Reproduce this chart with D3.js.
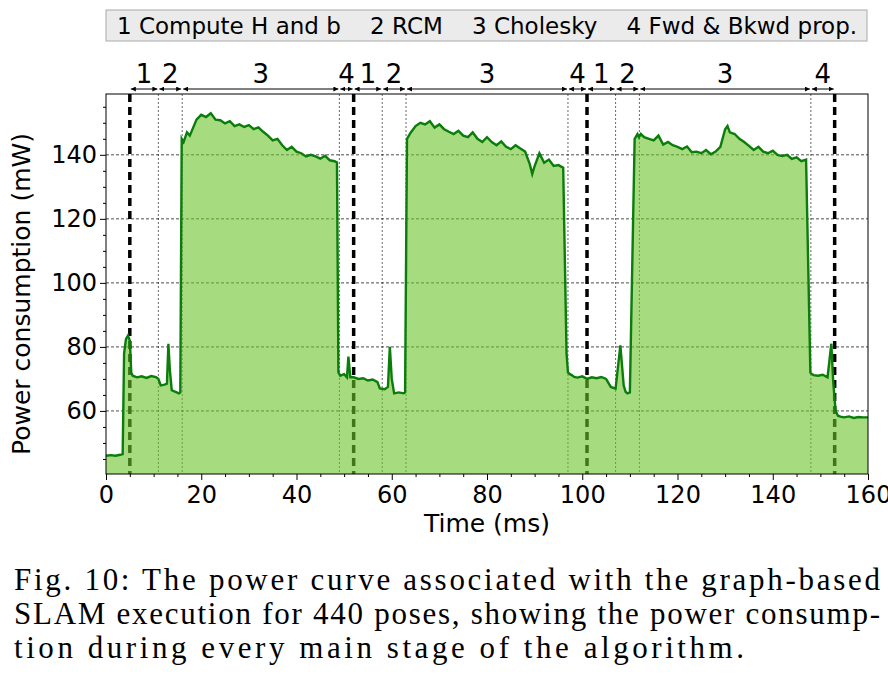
<!DOCTYPE html><html><head><meta charset="utf-8"><script src="https://cdn.jsdelivr.net/npm/d3@7"></script>
<style>body{margin:0;background:#fff}</style></head><body><svg id="c" width="888" height="688"></svg>
<script>
const times=[0,1,2,3,3.5,3.8,4.2,4.6,5,5.3,5.6,6.5,7.5,8.5,9.5,10.5,11,11.5,12.3,12.8,13.1,13.4,13.8,14.5,15.3,15.6,15.9,16.3,17,17.6,18.3,19,20,21,22,23,24,25,26,27,28,29,30,31,32,33,34,35,36,37,38,39,40,41,42,43,44,45,46,47,48,48.5,48.8,49.2,50,50.6,50.9,51.3,52,53,54,55,56,57,57.5,58.5,59.2,59.6,60,60.5,61.5,62.5,62.8,63.2,64,65,66,67,68,69,70,71,72,73,74,75,76,77,78,79,80,81,82,83,84,85,86,87,88,89,89.5,90,91,92,93,94,95,96,96.7,97,97.4,97.8,98.3,99,100,101,102,103,104,105,106,107,108,108.7,109.1,109.5,110,111,111.6,111.9,112.3,113,114,115,116,117,118,119,120,121,122,123,124,125,126,127,128,129,130,130.5,131,132,133,134,135,136,137,138,139,140,141,142,143,144,145,146,147,147.9,148.2,148.6,149.5,150.5,151.5,152.3,152.7,153.2,153.7,154.2,155,156,157,158,159,160];
const power=[46,46.2,46,46.3,46.5,78,82.5,83.5,82,72,71,70.5,70.8,70.3,70.9,70.6,70,68,68.2,68.5,81,73,66.5,66,65.5,65.8,145,144,147,146,148.5,151,152.5,151.8,153,151,150.8,149.8,150.5,149,149.5,148.7,149.3,148,148.6,147.2,146,144.5,145,143,141.5,142.5,141,140.5,139.5,140,139.5,138.8,139.7,138.3,138,137.6,72,71,71.5,70.5,77,70.5,70.5,70,70.2,69.5,69.8,69,67,66.8,67.5,80,70,65.5,65.8,65.5,65.8,145,147,149,150,149.5,150.5,148.5,149.5,148,147.2,146.5,147.5,146,145.5,147,145,144,145.5,144,143,144.2,142.5,141.8,143,142,141,137,134,136.5,140.5,137.5,138.5,136.5,136.8,136,78,72,71.5,71.2,70.6,70.4,70.8,70,70.5,70.2,70.6,70,67.5,67,80.5,68,66,65.5,65.8,145,146.5,145.5,146.5,145.5,145,144.5,146,143.2,144,143,142.5,141.8,142.6,140.8,141,140.5,141.5,140.2,141,142.5,148,149,147,146.5,145,144,142.8,141.5,142.5,141,140.5,141.3,140,139.6,140,138.7,139.2,138,138.5,72,71.5,71.2,71,71.3,70.5,81,69,60,58.5,58.2,58,58.3,57.8,58.1,58,58];
const xTicks=[0,20,40,60,80,100,120,140,160];
const yTicks=[60,80,100,120,140];
const cycleStarts=[5,52,101,153];
const stageBounds=[11,16,49,58,63,97,107,112,148];
const stages=[["1",5,11],["2",11,16],["3",16,49],["4",49,52],["1",52,58],["2",58,63],["3",63,97],["4",97,101],["1",101,107],["2",107,112],["3",112,148],["4",148,153]];
const legendText="1 Compute H and b    2 RCM    3 Cholesky    4 Fwd & Bkwd prop.";
const caption=["Fig. 10: The power curve associated with the graph-based","SLAM execution for 440 poses, showing the power consump-","tion during every main stage of the algorithm."];

const svg=d3.select("#c");
const L=106,R=868,T=94,B=474;
const x=d3.scaleLinear().domain([0,160]).range([L,R]);
const y=d3.scaleLinear().domain([40.3,159]).range([B,T]);
const F="DejaVu Sans";
svg.append("g").selectAll("line").data(yTicks).join("line").attr("x1",L).attr("x2",R).attr("y1",d=>y(d)).attr("y2",d=>y(d)).attr("stroke","#000").attr("stroke-width",0.7).attr("stroke-dasharray","3,2");
svg.append("g").selectAll("line").data(stageBounds).join("line").attr("x1",d=>x(d)).attr("x2",d=>x(d)).attr("y1",T).attr("y2",B).attr("stroke","#000").attr("stroke-width",0.6).attr("stroke-dasharray","2,2");
svg.append("g").selectAll("line").data(cycleStarts).join("line").attr("x1",d=>x(d)).attr("x2",d=>x(d)).attr("y1",T).attr("y2",B).attr("stroke","#000").attr("stroke-width",3.5).attr("stroke-dasharray","8,5");
const pts=times.map((t,i)=>[t,power[i]]);
svg.append("path").datum(pts).attr("d",d3.area().x(d=>x(d[0])).y0(B).y1(d=>y(d[1]))).attr("fill","rgb(107,195,43)").attr("fill-opacity",0.6);
svg.append("path").datum(pts).attr("d",d3.line().x(d=>x(d[0])).y(d=>y(d[1]))).attr("fill","none").attr("stroke","#0a7d0a").attr("stroke-width",2.4);
svg.append("rect").attr("x",L).attr("y",T).attr("width",R-L).attr("height",B-T).attr("fill","none").attr("stroke","#000").attr("stroke-width",1);
const xa=svg.append("g").attr("transform",`translate(0,${B})`).call(d3.axisBottom(x).tickValues(xTicks).tickSize(6).tickSizeOuter(0));
xa.selectAll("text").attr("font-family",F).attr("font-size",24).attr("dy","0.85em");
svg.append("g").attr("transform",`translate(0,${B})`).call(d3.axisBottom(x).tickValues(d3.range(0,161,5).filter(v=>v%20)).tickSize(3).tickFormat(""));
const ya=svg.append("g").attr("transform",`translate(${L},0)`).call(d3.axisLeft(y).tickValues(yTicks).tickSize(6).tickSizeOuter(0));
ya.selectAll("text").attr("font-family",F).attr("font-size",24);
svg.append("g").attr("transform",`translate(${L},0)`).call(d3.axisLeft(y).tickValues(d3.range(45,159,5).filter(v=>v%20)).tickSize(3).tickFormat(""));
svg.selectAll(".domain").remove();
svg.append("text").attr("x",(L+R)/2).attr("y",532).attr("text-anchor","middle").attr("font-family",F).attr("font-size",25).text("Time (ms)");
svg.append("text").attr("transform",`translate(30,${(T+B)/2+10}) rotate(-90)`).attr("text-anchor","middle").attr("font-family",F).attr("font-size",25).text("Power consumption (mW)");
svg.append("defs").html('<marker id="a" viewBox="0 0 6 6" refX="6" refY="3" markerWidth="5" markerHeight="5" orient="auto-start-reverse"><path d="M0,0L6,3L0,6z" fill="#000"/></marker>');
const sg=svg.append("g");
sg.selectAll("line").data(stages).join("line").attr("x1",d=>x(d[1])+1).attr("x2",d=>x(d[2])-1).attr("y1",89).attr("y2",89).attr("stroke","#000").attr("stroke-width",1).attr("marker-start","url(#a)").attr("marker-end","url(#a)");
sg.selectAll("text").data(stages).join("text").attr("x",d=>x((d[1]+d[2])/2)).attr("y",83).attr("text-anchor","middle").attr("font-family",F).attr("font-size",26).text(d=>d[0]);
svg.append("rect").attr("x",106).attr("y",10).attr("width",761).attr("height",31).attr("fill","#ebebeb").attr("stroke","#aaa");
svg.append("text").attr("x",487).attr("y",34).attr("text-anchor","middle").attr("font-family",F).attr("font-size",23).attr("xml:space","preserve").text(legendText);
const cy=[590,624,658];const tl=[866,866,730];
caption.forEach((s,i)=>{svg.append("text").attr("x",14).attr("y",cy[i]).attr("font-family","Liberation Serif").attr("font-size",31).attr("textLength",tl[i]).attr("lengthAdjust","spacing").text(s);});
</script></body></html>
